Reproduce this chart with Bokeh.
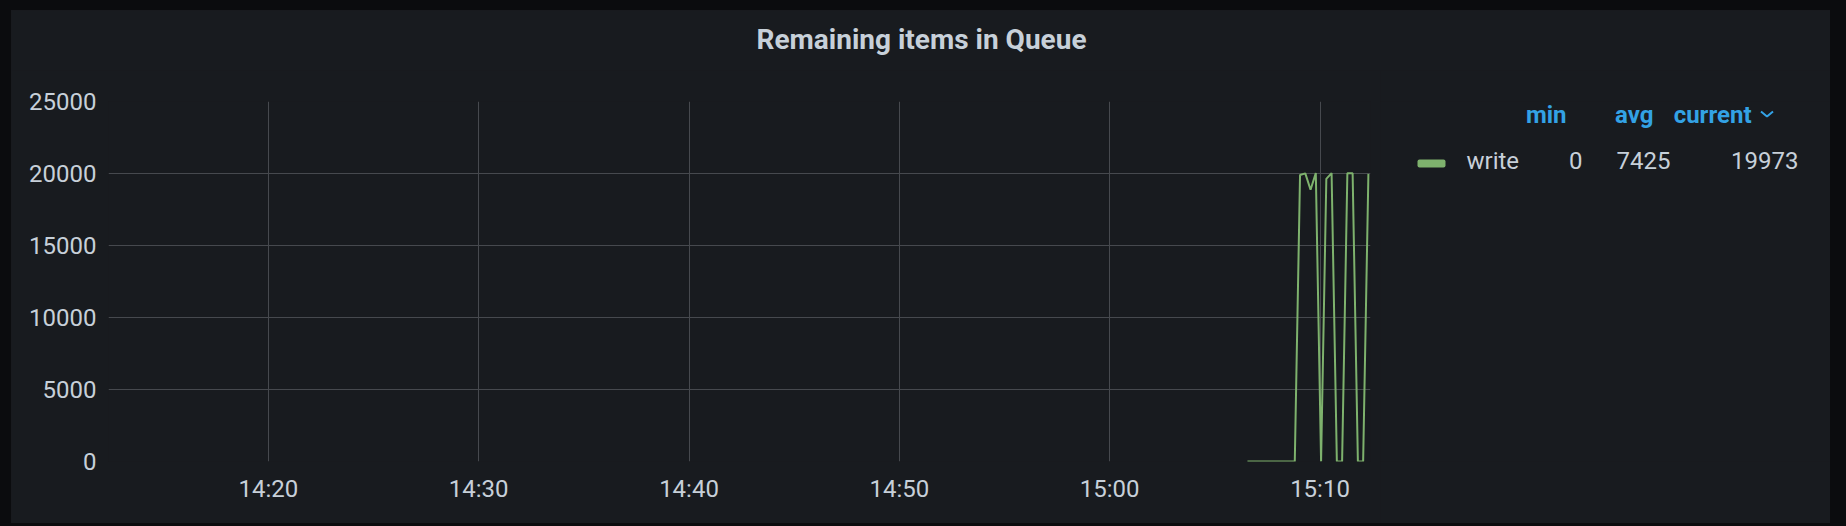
import pandas as pd
from bokeh.plotting import figure
from bokeh.layouts import column, row
from bokeh.models import (Range1d, FixedTicker, SingleIntervalTicker,
                          DatetimeTickFormatter, BoxAnnotation)
from bokeh.core.properties import value
from bokeh.embed import file_html
from bokeh.resources import INLINE

# ---------------- data ----------------
DAY = "2021-03-10"
title_text = "Remaining items in Queue"
series_name = "write"
times = ["15:06:33", "15:06:48", "15:07:03", "15:07:18", "15:07:33", "15:07:48",
         "15:08:03", "15:08:18", "15:08:33", "15:08:48", "15:09:03", "15:09:18",
         "15:09:33", "15:09:48", "15:10:03", "15:10:18", "15:10:33", "15:10:48",
         "15:11:03", "15:11:18", "15:11:33", "15:11:48", "15:12:03", "15:12:18"]
write_values = [0, 0, 0, 0, 0, 0, 0, 0, 0, 0, 19900, 20010,
                18870, 20030, 0, 19630, 20030, 0, 0, 20020, 20020, 0, 0, 19973]
x_start, x_end = "14:12:24", "15:12:24"
x_tick_times = ["14:20", "14:30", "14:40", "14:50", "15:00", "15:10"]
y_min, y_max, y_step = 0, 25000, 5000
stat_names = ["min", "avg", "current"]
stat_values = ["0", "7425", "19973"]

# ---------------- style ----------------
PANEL = "#181b1f"
PAGE = "#0b0c0e"
TEXT = "#c7d0d9"
BLUE = "#33a2e5"
GREEN = "#7eb26d"
GRID = "#46494e"
FONT = "Roboto"

W_TOTAL = 1819
TITLE_H = 60
MAIN_W = 1369
BODY_H = 453
LEG_W = W_TOTAL - MAIN_W
FRAME_W, FRAME_H = 1262, 360
BORDER_TOP, BORDER_BOTTOM = 31, 62


def ts(t):
    return pd.Timestamp(f"{DAY} {t}")


def style_blank(f):
    f.background_fill_color = PANEL
    f.border_fill_color = PANEL
    f.outline_line_color = None
    f.xgrid.visible = False
    f.ygrid.visible = False
    return f


# ---------------- title strip ----------------
tf = style_blank(figure(title=None, output_backend="svg", toolbar_location=None,
                        width=W_TOTAL, height=TITLE_H, min_border=0,
                        x_axis_location=None, y_axis_location=None,
                        x_range=Range1d(0, W_TOTAL), y_range=Range1d(0, TITLE_H)))
tf.text(x=[910], y=[31], text=[title_text], text_color=TEXT,
        text_font=value(FONT), text_font_size="28px", text_font_style="bold",
        text_align="center", text_baseline="alphabetic")

# ---------------- main chart ----------------
xs = [ts(t) for t in times]

p = figure(title=None, output_backend="svg", toolbar_location=None,
           x_axis_type="datetime",
           width=MAIN_W, height=BODY_H,
           frame_width=FRAME_W, frame_height=FRAME_H,
           min_border_left=97, min_border_right=10,
           min_border_top=BORDER_TOP, min_border_bottom=BORDER_BOTTOM,
           x_range=Range1d(ts(x_start), ts(x_end)),
           y_range=Range1d(y_min, y_max))
p.background_fill_color = PANEL
p.border_fill_color = PANEL
p.outline_line_color = None

p.line(xs, write_values, line_color=GREEN, line_width=2)

tick_ms = [ts(t + ":00").value // 10**6 for t in x_tick_times]
p.xaxis.ticker = FixedTicker(ticks=tick_ms)
p.xaxis.formatter = DatetimeTickFormatter(minsec="%H:%M", minutes="%H:%M",
                                          hourmin="%H:%M", hours="%H:%M")
p.yaxis.ticker = SingleIntervalTicker(interval=y_step)

for ax in (p.xaxis, p.yaxis):
    ax.axis_line_color = None
    ax.major_tick_line_color = None
    ax.minor_tick_line_color = None
    ax.major_tick_out = 0
    ax.major_tick_in = 0
    ax.major_label_text_color = TEXT
    ax.major_label_text_font = FONT
    ax.major_label_text_font_size = "24px"
p.xaxis.major_label_standoff = 13
p.yaxis.major_label_standoff = 8

p.xgrid.grid_line_color = GRID
p.ygrid.grid_line_color = GRID

# ---------------- legend table (frame aligned with the chart frame) ----------------
lf = style_blank(figure(title=None, output_backend="svg", toolbar_location=None,
                        width=LEG_W, height=BODY_H,
                        frame_width=LEG_W, frame_height=FRAME_H,
                        min_border_left=0, min_border_right=0,
                        min_border_top=BORDER_TOP, min_border_bottom=BORDER_BOTTOM,
                        x_axis_location=None, y_axis_location=None,
                        x_range=Range1d(0, LEG_W), y_range=Range1d(0, FRAME_H)))
HEAD_Y = 347
ROW_Y = 301


def txt(fig, s, x, y, color=TEXT, size="24px", align="left", style="normal"):
    fig.text(x=[x], y=[y], text=[s], text_color=color, text_font=value(FONT),
             text_font_size=size, text_font_style=style, text_align=align,
             text_baseline="alphabetic")


txt(lf, stat_names[0], 186, HEAD_Y, color=BLUE, align="right", style="bold")
txt(lf, stat_names[1], 273, HEAD_Y, color=BLUE, align="right", style="bold")
txt(lf, stat_names[2], 371, HEAD_Y, color=BLUE, align="right", style="bold")
# sort chevron icon next to the "current" header
lf.line(x=[380.5, 386.5, 392.5], y=[350, 345, 350], line_color=BLUE, line_width=2)

lf.add_layout(BoxAnnotation(left=37, right=65, bottom=294, top=302,
                            fill_color=GREEN, fill_alpha=1.0, line_color=None,
                            border_radius=2))
txt(lf, series_name, 86, ROW_Y)
txt(lf, stat_values[0], 202, ROW_Y, align="right")
txt(lf, stat_values[1], 290, ROW_Y, align="right")
txt(lf, stat_values[2], 418, ROW_Y, align="right")

bg = {"background-color": PANEL}
layout = column(tf, row(p, lf, spacing=0, styles=bg), spacing=0, styles=bg)

html = file_html(layout, INLINE, title=title_text)
html = html.replace(
    "</head>",
    "<style>html,body{background:%s;} body{padding:10px 0 0 11px !important;}</style></head>" % PAGE, 1)
open("out.html", "w").write(html)
